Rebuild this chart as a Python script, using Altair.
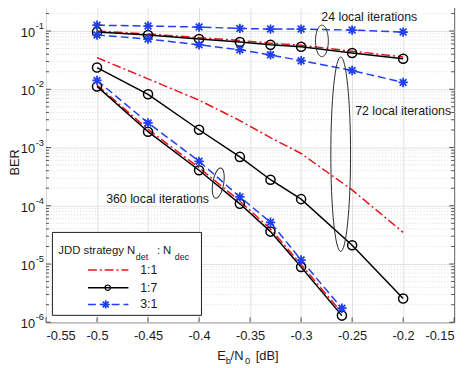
import altair as alt
import pandas as pd
import numpy as np

# ---------------- data ----------------
x_long = [-0.5, -0.45, -0.4, -0.36, -0.33, -0.3, -0.25, -0.2]
x_short = [-0.5, -0.45, -0.4, -0.36, -0.33, -0.3, -0.26]

ber_24_11 = [0.100, 0.089, 0.077, 0.069, 0.062, 0.057, 0.045, 0.036]
ber_24_17 = [0.096, 0.0855, 0.073, 0.065, 0.058, 0.0536, 0.042, 0.0335]
ber_24_31 = [0.126, 0.122, 0.117, 0.111, 0.108, 0.108, 0.104, 0.096]

ber_72_11 = [0.035, 0.0151, 0.0065, 0.0029, 0.00148, 7.9e-4, 1.87e-4, 3.5e-5]
ber_72_17 = [0.0236, 0.0082, 0.00202, 6.9e-4, 2.8e-4, 1.3e-4, 2.1e-5, 2.55e-6]
ber_72_31 = [0.0855, 0.073, 0.058, 0.0477, 0.039, 0.031, 0.021, 0.0131]

ber_360_11 = [0.0118, 0.00205, 4.5e-4, 1.2e-4, 4.0e-5, 9.8e-6, 1.45e-6]
ber_360_17 = [0.0112, 0.00187, 4.07e-4, 1.08e-4, 3.6e-5, 8.9e-6, 1.3e-6]
ber_360_31 = [0.0142, 0.00265, 5.8e-4, 1.42e-4, 5.2e-5, 1.17e-5, 1.74e-6]

x_ticks = [-0.55, -0.5, -0.45, -0.4, -0.35, -0.3, -0.25, -0.2, -0.15]
y_decades = [1e-1, 1e-2, 1e-3, 1e-4, 1e-5, 1e-6]
y_exponents = ["-1", "-2", "-3", "-4", "-5", "-6"]
y_top = 10 ** -0.5085

ann_text = ["24 local iterations", "72 local iterations", "360 local iterations"]
ann_x = [-0.2332, -0.2000, -0.4407]
ann_y = [0.1726, 0.00424, 1.315e-4]

ell_x = [-0.2796, -0.2612, -0.3812]
ell_y = [0.0677, 7.7e-4, 2.45e-4]
ell_w = [13, 20, 11]
ell_h = [32, 197, 31]
ell_ang = [0, 0, 10]

legend_labels = ["1:1", "1:7", "3:1"]

# ---------------- styling ----------------
FONT = "Liberation Sans"
TXT = "#1a1a1a"
RED = "#e8141c"
BLACK = "#000000"
BLUE = "#1f3ff0"
W, H = 413.5, 324
ASTERISK = "M-1,0L1,0M0,-1L0,1M-0.72,-0.72L0.72,0.72M-0.72,0.72L0.72,-0.72"

rows = []
for grp, xs, sets in [
    ("24", x_long, [("1:1", ber_24_11), ("1:7", ber_24_17), ("3:1", ber_24_31)]),
    ("72", x_long, [("1:1", ber_72_11), ("1:7", ber_72_17), ("3:1", ber_72_31)]),
    ("360", x_short, [("1:1", ber_360_11), ("1:7", ber_360_17), ("3:1", ber_360_31)]),
]:
    for strat, vals in sets:
        for xv, yv in zip(xs, vals):
            rows.append({"x": xv, "ber": yv, "group": grp, "strategy": strat})
df = pd.DataFrame(rows)

xscale = alt.Scale(domain=[-0.55, -0.15], nice=False, zero=False)
yscale = alt.Scale(type="log", domain=[1e-6, y_top], nice=False)
AX_X = alt.Axis(values=x_ticks, labelExpr="'' + datum.value", title=None, ticks=False, domain=False,
                grid=True, gridColor="#e2e2e2", gridWidth=1, labelFont=FONT, labelFontSize=13,
                labelColor=TXT, labelPadding=7)
AX_Y = alt.Axis(values=y_decades, labelExpr="'10'", title=None, ticks=False, domain=False,
                grid=True, gridColor="#e2e2e2", gridWidth=1, labelFont=FONT, labelFontSize=13,
                labelColor=TXT, labelPadding=11.5, labelOffset=1.5)
Xn = alt.X("x:Q", scale=xscale, axis=AX_X)
Yn = alt.Y("ber:Q", scale=yscale, axis=AX_Y)

minor = [m * 10.0 ** e for e in range(-6, 0) for m in range(2, 10) if m * 10.0 ** e < y_top]
df_minor = pd.DataFrame({"ber": minor})
df_dec = pd.DataFrame({"ber": y_decades, "lab": y_exponents})
df_xt = pd.DataFrame({"x": x_ticks})
one = pd.DataFrame({"k": [0]})

minor_grid = alt.Chart(df_minor).mark_rule(color="#d2d2d2", strokeDash=[1, 2], strokeWidth=0.8).encode(y=Yn)

# inward ticks
tick_c = "#262626"
yt_major_l = alt.Chart(df_dec).mark_rule(color=tick_c, strokeWidth=0.8).encode(y=Yn, x=alt.value(0), x2=alt.value(5))
yt_major_r = alt.Chart(df_dec).mark_rule(color=tick_c, strokeWidth=0.8).encode(y=Yn, x=alt.value(W - 5), x2=alt.value(W))
yt_minor_l = alt.Chart(df_minor).mark_rule(color=tick_c, strokeWidth=0.8).encode(y=Yn, x=alt.value(0), x2=alt.value(3))
yt_minor_r = alt.Chart(df_minor).mark_rule(color=tick_c, strokeWidth=0.8).encode(y=Yn, x=alt.value(W - 3), x2=alt.value(W))
xt_b = alt.Chart(df_xt).mark_rule(color=tick_c, strokeWidth=0.8).encode(x=Xn, y=alt.value(H - 5), y2=alt.value(H))
xt_t = alt.Chart(df_xt).mark_rule(color=tick_c, strokeWidth=0.8).encode(x=Xn, y=alt.value(0), y2=alt.value(5))

# exponent labels of y axis
y_exp = alt.Chart(df_dec).mark_text(align="left", baseline="middle", font=FONT, fontSize=9.5,
                                    color=TXT, dy=-5).encode(y=Yn, x=alt.value(-10.5), text="lab:N")

# data
d11 = df[df.strategy == "1:1"]
d17 = df[df.strategy == "1:7"]
d31 = df[df.strategy == "3:1"]
red_line = alt.Chart(d11).mark_line(color=RED, strokeDash=[9, 3, 2, 3], strokeWidth=1.5).encode(
    x=Xn, y=Yn, detail="group:N", order="x:Q")
blk_line = alt.Chart(d17).mark_line(color=BLACK, strokeWidth=1.5).encode(
    x=Xn, y=Yn, detail="group:N", order="x:Q")
blk_pts = alt.Chart(d17).mark_point(shape="circle", size=85, filled=False, color=BLACK,
                                    strokeWidth=1.5, opacity=1).encode(x=Xn, y=Yn)
blu_line = alt.Chart(d31).mark_line(color=BLUE, strokeDash=[8, 4], strokeWidth=1.5).encode(
    x=Xn, y=Yn, detail="group:N", order="x:Q")
blu_pts = alt.Chart(d31).mark_point(shape=ASTERISK, size=90, filled=False, color=BLUE,
                                    strokeWidth=1.8, opacity=1).encode(x=Xn, y=Yn)

# annotations
def ellipse_path(ratio, n=64):
    t = np.linspace(0, 2 * np.pi, n, endpoint=False)
    pts = ["%.4f,%.4f" % (ratio * np.cos(a), np.sin(a)) for a in t]
    return "M" + "L".join(pts) + "Z"

df_ell = pd.DataFrame({
    "x": ell_x, "ber": ell_y,
    "shape": [ellipse_path(w / h) for w, h in zip(ell_w, ell_h)],
    "size": [h * h for h in ell_h],
    "ang": ell_ang,
})
ellipses = alt.Chart(df_ell).mark_point(filled=False, color="#2a2a2a", strokeWidth=1, opacity=1).encode(
    x=Xn, y=Yn,
    shape=alt.Shape("shape:N", scale=None),
    size=alt.Size("size:Q", scale=None),
    angle=alt.Angle("ang:Q", scale=None),
)
df_ann = pd.DataFrame({"x": ann_x, "ber": ann_y, "t": ann_text})
ann = alt.Chart(df_ann).mark_text(font=FONT, fontSize=12.5, color=TXT, align="center",
                                  baseline="middle").encode(x=Xn, y=Yn, text="t:N")

# helpers for pixel-placed decorations
def ptext(txt, x, y, size, align="left", baseline="middle", angle=0):
    kw = dict(text=txt, font=FONT, fontSize=size, color=TXT, align=align, baseline=baseline)
    if angle:
        kw["angle"] = angle
    return alt.Chart(one).mark_text(**kw).encode(x=alt.value(x), y=alt.value(y))

def prule(x1, x2, y, color, dash=None):
    kw = dict(color=color, strokeWidth=1.5)
    if dash:
        kw["strokeDash"] = dash
    return alt.Chart(one).mark_rule(**kw).encode(x=alt.value(x1), x2=alt.value(x2), y=alt.value(y))

# legend (manual, to allow subscripts); OX/OY = picture position of the plot origin
OX, OY = 46.5, 0
LF = 11.5
lg = [
    alt.Chart(one).mark_rect(fill="white", stroke="#1a1a1a", strokeWidth=1).encode(
        x=alt.value(53 - OX), x2=alt.value(204 - OX), y=alt.value(233 - OY), y2=alt.value(317 - OY)),
    ptext("JDD strategy N", 59 - OX, 252 - OY, LF),
    ptext("det", 137.5 - OX, 258 - OY, 9),
    ptext(":", 159 - OX, 252 - OY, LF),
    ptext("N", 165 - OX, 252 - OY, LF),
    ptext("dec", 177 - OX, 258 - OY, 9),
    prule(89 - OX, 130 - OX, 271 - OY, RED, [9, 3, 2, 3]),
    prule(89 - OX, 130 - OX, 289 - OY, BLACK),
    alt.Chart(one).mark_point(shape="circle", size=30, filled=False, color=BLACK, strokeWidth=1.2, opacity=1).encode(
        x=alt.value(109 - OX), y=alt.value(289 - OY)),
    prule(89 - OX, 130 - OX, 306 - OY, BLUE, [8, 4]),
    alt.Chart(one).mark_point(shape=ASTERISK, size=70, filled=False, color=BLUE, strokeWidth=1.7, opacity=1).encode(
        x=alt.value(107 - OX), y=alt.value(306 - OY)),
    ptext(legend_labels[0], 142 - OX, 271 - OY, 12.5),
    ptext(legend_labels[1], 142 - OX, 289 - OY, 12.5),
    ptext(legend_labels[2], 142 - OX, 306 - OY, 12.5),
]

# axis titles with subscripts
titles = [
    ptext("BER", 15.5 - OX, 162 - OY, 13, align="center", angle=270),
    ptext("E", 220 - OX, 362.5 - OY, 13, baseline="alphabetic"),
    ptext("b", 228.5 - OX, 366 - OY, 9.5, baseline="alphabetic"),
    ptext("/N", 233.5 - OX, 362.5 - OY, 13, baseline="alphabetic"),
    ptext("0", 248 - OX, 366 - OY, 9.5, baseline="alphabetic"),
    ptext("[dB]", 259 - OX, 362.5 - OY, 13, baseline="alphabetic"),
]

chart = alt.layer(
    minor_grid, yt_major_l, yt_major_r, yt_minor_l, yt_minor_r, xt_b, xt_t,
    red_line, blk_line, blu_line, blk_pts, blu_pts, ellipses, ann, y_exp,
    *lg, *titles,
).properties(
    width=W, height=H,
    padding={"left": 38.5, "top": -8, "right": 12, "bottom": 44},
    autosize=alt.AutoSizeParams(type="none"),
    background="white",
).configure_view(stroke="#262626", strokeWidth=1)

chart.save("out.html", embed_options={"renderer": "svg", "actions": False})
